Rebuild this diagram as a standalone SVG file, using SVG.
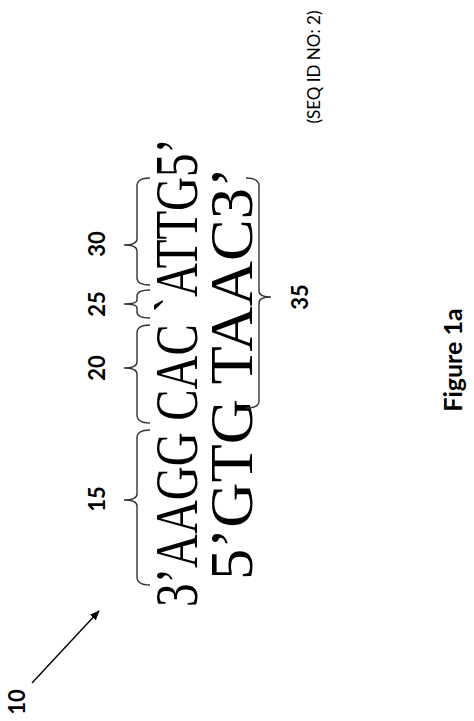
<svg xmlns="http://www.w3.org/2000/svg" width="474" height="721" viewBox="0 0 474 721">
<style>
.seq{font-family:"Liberation Serif","Times New Roman",serif;font-size:62px;fill:#000}
.lbl{font-family:Lato,"Liberation Sans",sans-serif;font-weight:bold;font-size:22px;fill:#000;text-anchor:middle}
.cap{font-family:Lato,"Liberation Sans",sans-serif;font-weight:bold;font-size:25px;fill:#000;text-anchor:middle}
.note{font-family:Lato,"Liberation Sans",sans-serif;font-size:17px;fill:#000;text-anchor:middle}
.br{fill:none;stroke:#333;stroke-width:1.4}
</style>
<defs>
<marker id="ah" markerWidth="10" markerHeight="8" refX="9" refY="4" orient="auto" markerUnits="userSpaceOnUse">
<path d="M0,0 L10,4 L0,8 Z" fill="#000"/>
</marker>
</defs>
<rect width="474" height="721" fill="#fff"/>
<g id="seq-top"><text class="seq" transform="translate(197,607) rotate(-90)" textLength="469" lengthAdjust="spacingAndGlyphs">3’AAGG CAC `ATTG5’</text></g>
<g id="seq-bottom"><text class="seq" transform="translate(252,580) rotate(-90)" textLength="413" lengthAdjust="spacingAndGlyphs">5’GTG TAAC3’</text></g>
<g id="connectors">
<path id="arrow10" d="M32,683 L99,611" stroke="#000" stroke-width="1.4" marker-end="url(#ah)"/>
<path class="br" d="M150,178 Q137,178 137,186 L137,239 Q137,245 124,245 Q137,245 137,251 L137,278 Q137,285 150,285"/>
<path class="br" d="M150,290 Q137,290 137,296 L137,300 Q137,304 124,304 Q137,304 137,308 L137,312 Q137,318 150,318"/>
<path class="br" d="M150,325 Q137,325 137,333 L137,362 Q137,368 124,368 Q137,368 137,374 L137,415 Q137,423 150,423"/>
<path class="br" d="M150,430 Q137,430 137,438 L137,494 Q137,500 124,500 Q137,500 137,506 L137,577 Q137,585 150,585"/>
<path class="br" d="M246,178 Q259,178 259,186 L259,291 Q259,297 271,297 Q259,297 259,303 L259,401 Q259,408 246,408"/>
</g>
<g id="label-10"><text class="lbl" transform="translate(25,702) rotate(-90)">10</text></g>
<g id="label-15"><text class="lbl" transform="translate(105,499) rotate(-90)">15</text></g>
<g id="label-20"><text class="lbl" transform="translate(105,368) rotate(-90)">20</text></g>
<g id="label-25"><text class="lbl" transform="translate(105,304) rotate(-90)">25</text></g>
<g id="label-30"><text class="lbl" transform="translate(105,244) rotate(-90)">30</text></g>
<g id="label-35"><text class="lbl" transform="translate(308,297) rotate(-90)">35</text></g>
<g id="seq-id"><text class="note" transform="translate(320,67) rotate(-90)">(SEQ ID NO: 2)</text></g>
<g id="caption"><text class="cap" transform="translate(462,360) rotate(-90)">Figure 1a</text></g>
</svg>
